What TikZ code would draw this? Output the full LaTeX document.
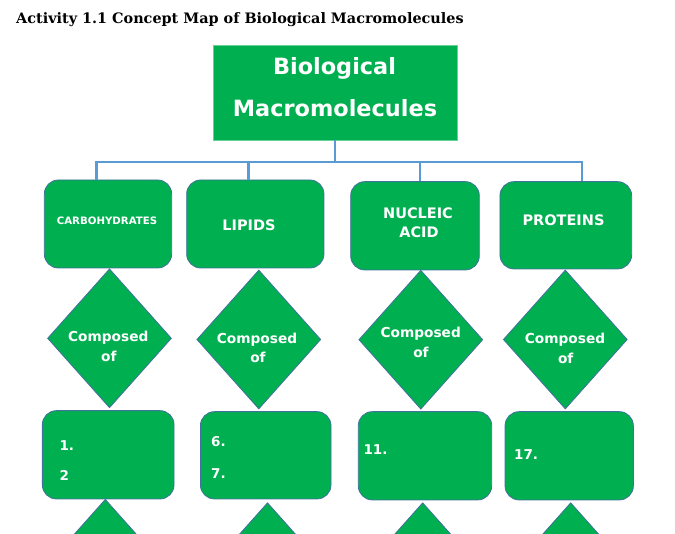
\documentclass[tikz,border=0pt]{standalone}
\usepackage{fontspec}
\setsansfont{DejaVu Sans}
\newfontfamily\headingfont{DejaVu Serif}
\usetikzlibrary{shapes.geometric}

\definecolor{mapgreen}{HTML}{00B050}
\definecolor{mapedge}{HTML}{41719C}
\definecolor{mapline}{HTML}{5B9BD5}

\tikzset{
  conceptbox/.style={draw=mapedge, fill=mapgreen, rounded corners=14pt, line width=0.8pt, inner sep=0pt},
  linkdiamond/.style={diamond, draw=mapedge, fill=mapgreen, line width=0.8pt, inner sep=0pt, minimum width=124pt, minimum height=139pt},
  maptext/.style={text=white, font=\sffamily\bfseries, inner sep=0pt},
  branch/.style={draw=mapline, line width=2.8pt}
}

\begin{document}
\begin{tikzpicture}[x=1pt,y=-1pt]
\useasboundingbox (0,0) rectangle (675,534);
\clip (0,0) rectangle (675,534);

% Heading
\node [anchor=base west, inner sep=0pt, font=\headingfont\bfseries\fontsize{14.4}{17}\selectfont] (heading) at (16,23.3) {Activity 1.1 Concept Map of Biological Macromolecules};

% Top box
\node [draw=mapgreen!60!white, fill=mapgreen, line width=0.8pt, minimum width=244pt, minimum height=95pt, inner sep=0pt] (macro) at (335,92.5) {};
\node [maptext, anchor=base, font=\sffamily\bfseries\fontsize{22.4}{26}\selectfont] (macroA) at (334.5,75) {Biological};
\node [maptext, anchor=base, font=\sffamily\bfseries\fontsize{22.4}{26}\selectfont] (macroB) at (335,117) {Macromolecules};

% First row of boxes
\node [conceptbox, minimum width=127.4pt, minimum height=88pt] (carb) at (108,224) {};
\node [conceptbox, minimum width=137.3pt, minimum height=88pt] (lipid) at (255.3,224) {};
\node [conceptbox, minimum width=128.6pt, minimum height=88.3pt] (nucl) at (415,225.8) {};
\node [conceptbox, minimum width=131.7pt, minimum height=87.3pt] (prot) at (565.8,225.3) {};

\node [maptext, anchor=base, font=\sffamily\bfseries\fontsize{10.2}{12}\selectfont] (carbtxt) at (107,225) {CARBOHYDRATES};
\node [maptext, anchor=base, font=\sffamily\bfseries\fontsize{14.5}{17}\selectfont] (lipidtxt) at (249,231) {LIPIDS};
\node [maptext, anchor=base, font=\sffamily\bfseries\fontsize{14.5}{17}\selectfont] (nucltxtA) at (418,219) {NUCLEIC};
\node [maptext, anchor=base, font=\sffamily\bfseries\fontsize{14.5}{17}\selectfont] (nucltxtB) at (419,238) {ACID};
\node [maptext, anchor=base, font=\sffamily\bfseries\fontsize{14.5}{17}\selectfont] (prottxt) at (563.5,226) {PROTEINS};

% Connections from the top box
\coordinate (bus) at (335,162);
\coordinate (joinC) at (96.7,162);
\coordinate (joinL) at (248.3,162);
\coordinate (joinN) at (420,162);
\coordinate (joinP) at (582,162);
\draw [branch] (macro.south -| bus) -- (bus);
\draw [branch] (joinC |- carb.north) -- (joinC) -- (joinP) -- (joinP |- prot.north);
\draw [branch] (joinL) -- (joinL |- lipid.north);
\draw [branch] (joinN) -- (joinN |- nucl.north);

% Diamonds
\foreach \name/\x/\y in {dcarb/109.5/338.3, dlipid/258.8/339.5, dnucl/420.8/339.7, dprot/565.3/339.5}
\node [linkdiamond] (\name) at (\x,\y) {};

% Diamond texts
\foreach \n/\x/\ya/\xb/\yb in {1/108.3/341.7/108.8/361.7, 2/257/344/258/363, 3/420.7/337.7/421/357.3, 4/565/343.3/565.7/363.3}
{
\node [maptext, anchor=base, font=\sffamily\bfseries\fontsize{13.7}{16}\selectfont] (comp\n) at (\x,\ya) {Composed};
\node [maptext, anchor=base, font=\sffamily\bfseries\fontsize{13.7}{16}\selectfont] (of\n) at (\xb,\yb) {of};
}

% Second row of boxes
\node [conceptbox, minimum width=131.7pt, minimum height=88.3pt] (carbpart) at (108.2,454.8) {};
\node [conceptbox, minimum width=130.6pt, minimum height=87.3pt] (lipidpart) at (265.7,455.3) {};
\node [conceptbox, minimum width=133.4pt, minimum height=88.3pt] (nuclpart) at (425,455.8) {};
\node [conceptbox, minimum width=128.3pt, minimum height=88.3pt] (protpart) at (569.2,455.8) {};

\foreach \n/\x/\y/\t in {one/59.3/450.7/1., two/59.3/480.7/2, six/211/446.7/6., seven/211/478.3/7., eleven/363.3/454.3/11., seventeen/514/460/17.}
\node [maptext, anchor=base west, font=\sffamily\bfseries\fontsize{13.5}{16}\selectfont] (num\n) at (\x,\y) {\t};

% Bottom row of diamonds
\foreach \name/\x/\y in {ecarb/105.3/568.8, elipid/267.5/572.2, enucl/422.7/572.2, eprot/570.7/572.2}
\node [linkdiamond] (\name) at (\x,\y) {};

\end{tikzpicture}
\end{document}
